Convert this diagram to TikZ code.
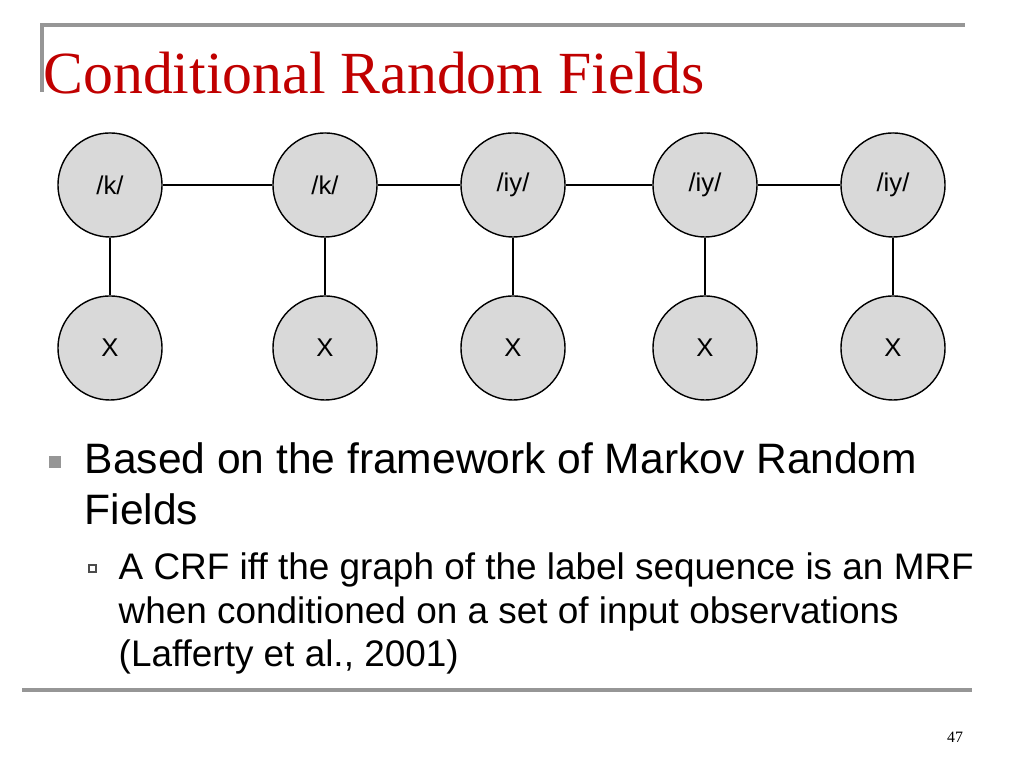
\documentclass[tikz,border=0pt]{standalone}
\usepackage{fontspec}
\setmainfont{Liberation Sans}
\newfontfamily\titlefont{Liberation Serif}
\definecolor{titlered}{RGB}{192,0,0}
\definecolor{rulegray}{RGB}{150,150,150}
\definecolor{nodegray}{RGB}{217,217,217}
\tikzset{state/.style={circle, draw=black, fill=nodegray, minimum size=1.04cm, inner sep=0pt, font=\fontsize{7.3}{9}\selectfont},
  link/.style={draw=black, line width=0.4pt}}
\begin{document}
\begin{tikzpicture}[x=0.01cm, y=-0.01cm]
  \useasboundingbox (0,0) rectangle (1024,768);
  %% frame rules
  \draw [rulegray, line width=1.2pt] (42,92) -- (42,25) -- (965,25);
  \draw [rulegray, line width=1.2pt] (22,690) -- (972,690);
  \node [anchor=west, text=titlered, font=\titlefont\fontsize{17}{20}\selectfont] (title) at (31,73) {Conditional Random Fields};
  %% label chain
  \foreach \i/\x/\lab in {1/110/{/k/}, 2/325/{/k/}, 3/513/{/iy/}, 4/705/{/iy/}, 5/893/{/iy/}} {
    \node (y\i) [state] at (\x,185) {\lab};
    \node (x\i) [state] at (\x,348) {X};
    \draw [link] (y\i) -- (x\i);
  }
  \foreach \i/\j in {1/2, 2/3, 3/4, 4/5}
    \draw [link] (y\i) -- (y\j);
  %% bullets
  \fill [rulegray] (49,456) rectangle (61,468);
  \node [anchor=north west, align=left, inner sep=0pt, font=\fontsize{12.1}{14.5}\selectfont] (main) at (84,442) {Based on the framework of Markov Random\\Fields};
  \draw [black!70, line width=0.5pt] (89,565) rectangle (96,572);
  \node [anchor=north west, align=left, inner sep=0pt, font=\fontsize{10.5}{12.4}\selectfont] (sub) at (118,552) {A CRF iff the graph of the label sequence is an MRF\\when conditioned on a set of input observations\\(Lafferty et al., 2001)};
  \node [font=\titlefont\fontsize{4.5}{5}\selectfont] (page) at (955,737) {47};
\end{tikzpicture}
\end{document}
